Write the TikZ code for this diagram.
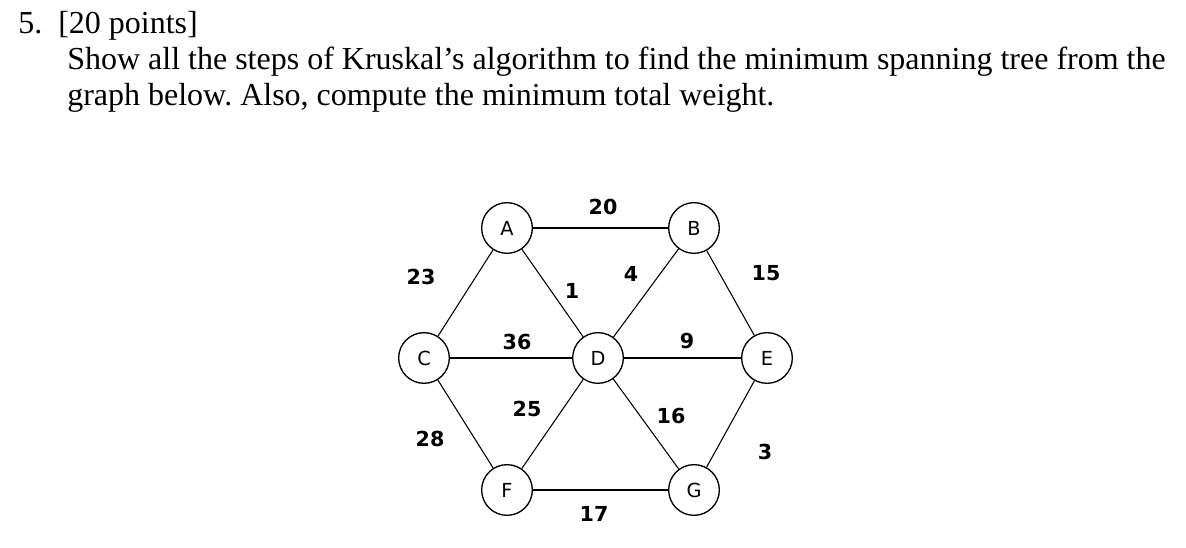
\documentclass[tikz,border=0pt]{standalone}
\usepackage{fontspec}
\setmainfont{Liberation Serif}
\newfontfamily\gfont{DejaVu Sans}
\frenchspacing
\begin{document}
\begin{tikzpicture}[x=0.75pt,y=-0.75pt,
  vtx/.style={circle,draw,line width=1pt,minimum size=38pt,inner sep=0pt,font=\gfont\fontsize{14.5}{16}\selectfont,fill=white},
  wt/.style={font=\gfont\bfseries\fontsize{15.5}{18}\selectfont},
  txt/.style={anchor=base west,inner sep=0pt,font=\fontsize{24}{28}\selectfont}]
\useasboundingbox (0,0) rectangle (1186,548);
\node[txt] (t1) at (18,34) {5.\ \ [20 points]};
\node[txt] (t2) at (67,70) {Show all the steps of Kruskal’s algorithm to find the minimum spanning tree from the};
\node[txt] (t3) at (67,106) {graph below. Also, compute the minimum total weight.};
\node[vtx] (A) at (507,228) {A};
\node[vtx] (B) at (694,228) {B};
\node[vtx] (C) at (424,358) {C};
\node[vtx] (D) at (598,358) {D};
\node[vtx] (E) at (767,358) {E};
\node[vtx] (F) at (507,490) {F};
\node[vtx] (G) at (694,490) {G};
\begin{scope}[line width=0.8pt]
\draw (A)--(B); \draw (A)--(C); \draw (A)--(D); \draw (B)--(D); \draw (B)--(E);
\draw (C)--(D); \draw (D)--(E); \draw (C)--(F); \draw (D)--(F); \draw (D)--(G);
\draw (E)--(G); \draw (F)--(G);
\end{scope}
\node[wt] (w1) at (603,207) {20};
\node[wt] (w2) at (421,277) {23};
\node[wt] (w3) at (572,291) {1};
\node[wt] (w4) at (631,274) {4};
\node[wt] (w5) at (766,273) {15};
\node[wt] (w6) at (517,342) {36};
\node[wt] (w7) at (687,341) {9};
\node[wt] (w8) at (527,409) {25};
\node[wt] (w9) at (671,416) {16};
\node[wt] (w10) at (430,439) {28};
\node[wt] (w11) at (765,452) {3};
\node[wt] (w12) at (594,514) {17};
\end{tikzpicture}
\end{document}
